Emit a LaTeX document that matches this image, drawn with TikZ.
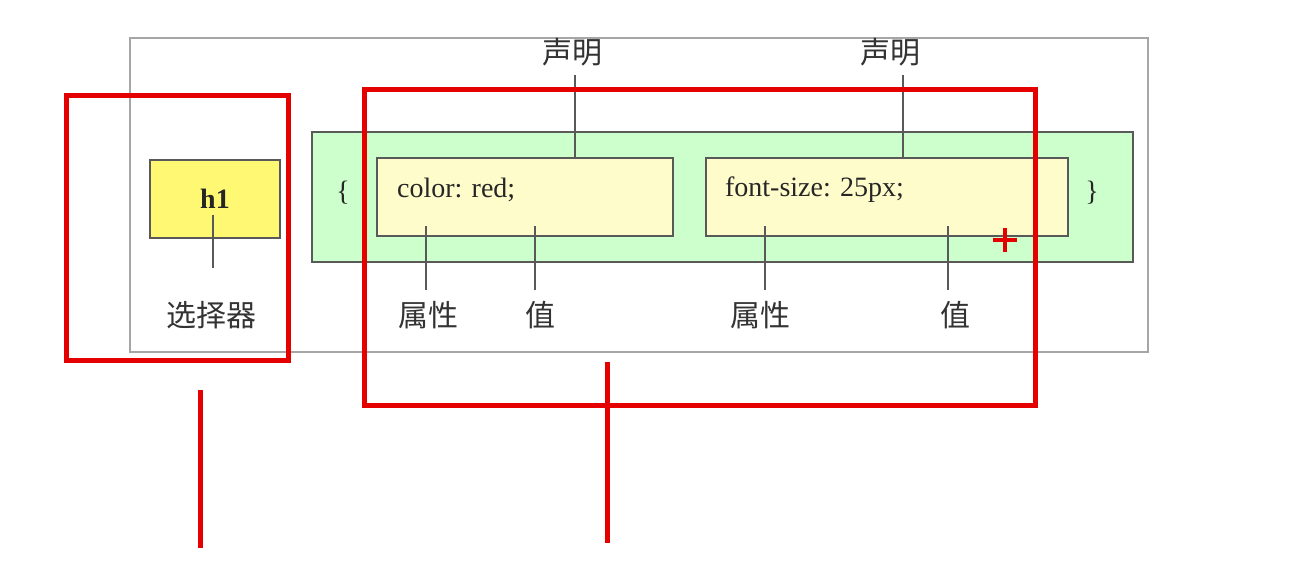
\documentclass[tikz,border=0pt]{standalone}
\usepackage{fontspec}
\setmainfont{Liberation Serif}
\newfontfamily\cjk{Noto Sans CJK SC}
\begin{document}
\begin{tikzpicture}[x=0.5pt,y=-0.5pt,
  redbox/.style={draw=red!90!black,line width=2.5pt},
  lab/.style={font=\cjk\fontsize{15}{17}\selectfont,text=black!80},
  code/.style={font=\fontsize{14}{16}\selectfont,text=black!85},
  ln/.style={draw=black!65,line width=0.7pt}]
\useasboundingbox (0,0) rectangle (1301,567);
\draw[draw=black!35,line width=1.2pt] (130,38) rectangle (1148,352);
\draw[draw=black!65,fill=green!20!white,line width=0.8pt] (312,132) rectangle (1133,262);
\node[draw=black!65,fill=yellow!55!white,line width=0.8pt,minimum width=65pt,minimum height=39pt,code,font=\bfseries\fontsize{14}{16}\selectfont] (h1) at (215,199) {h1};
\node[draw=black!65,fill=yellow!20!white,line width=0.8pt,minimum width=148pt,minimum height=39pt] (cb) at (525,197) {};
\node[draw=black!65,fill=yellow!20!white,line width=0.8pt,minimum width=181pt,minimum height=39pt] (fb) at (887,197) {};
\node[code,anchor=west] (ct) at (390,190) {color: red;};
\node[code,anchor=west] (ft) at (718,190) {font-size: 25px;};
\node[code] (lb) at (343,193) {\{};
\node[code] (rb) at (1092,193) {\}};
\node[lab] (sel) at (211,315) {选择器};
\node[lab] (d1) at (572,52) {声明};
\node[lab] (d2) at (890,52) {声明};
\node[lab] (p1) at (428,315) {属性};
\node[lab] (v1) at (540,315) {值};
\node[lab] (p2) at (760,315) {属性};
\node[lab] (v2) at (955,315) {值};
\draw[ln] (213,215) -- (213,268);
\draw[ln] (575,75) -- (575,158);
\draw[ln] (903,75) -- (903,158);
\draw[ln] (426,226) -- (426,290);
\draw[ln] (535,226) -- (535,290);
\draw[ln] (765,226) -- (765,290);
\draw[ln] (948,226) -- (948,290);
\draw[redbox] (66,96) rectangle (288,360);
\draw[redbox] (364,90) rectangle (1035,405);
\draw[red!90!black,line width=2pt] (993,240) -- (1017,240) (1005,228) -- (1005,252);
\draw[redbox] (200,390) -- (200,548);
\draw[redbox] (607,362) -- (607,543);
\end{tikzpicture}
\end{document}
